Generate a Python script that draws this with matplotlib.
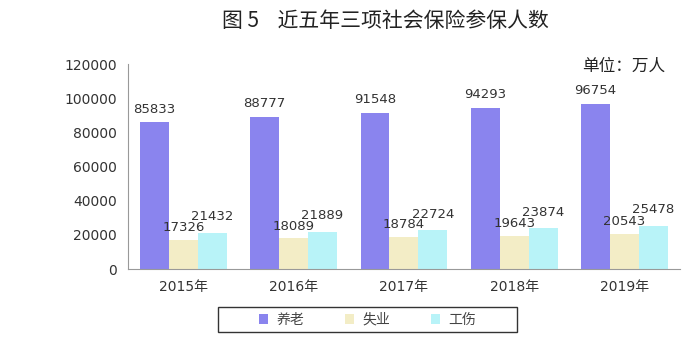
import matplotlib
matplotlib.use("Agg")
import matplotlib.pyplot as plt
from matplotlib.patches import Rectangle
import numpy as np

years = ["2015年", "2016年", "2017年", "2018年", "2019年"]
series_names = ["养老", "失业", "工伤"]
pension = [85833, 88777, 91548, 94293, 96754]
unemployment = [17326, 18089, 18784, 19643, 20543]
injury = [21432, 21889, 22724, 23874, 25478]
yticks = [0, 20000, 40000, 60000, 80000, 100000, 120000]

colors = ["#8a84ee", "#f3edc6", "#b8f3f8"]
fam = ["DejaVu Sans", "Noto Sans CJK SC"]
plt.rcParams["font.family"] = fam

fig = plt.figure(figsize=(7, 3.5), dpi=100)
ax = fig.add_axes([0.183, 0.231, 0.788, 0.586])

x = np.arange(len(years))
w = 0.262
data = [pension, unemployment, injury]
offsets = [-w, 0, w]
label_pad = [5, 4, 7]
for vals, off, c, name, pad in zip(data, offsets, colors, series_names, label_pad):
    bars = ax.bar(x + off, vals, w, color=c, label=name)
    for b, v in zip(bars, vals):
        ax.annotate(str(v), (b.get_x() + b.get_width() / 2, v), xytext=(0, pad),
                    textcoords="offset points", ha="center", va="bottom",
                    fontsize=9.5, color="#333333")

ax.set_xlim(-0.5, len(years) - 0.5)
ax.set_ylim(0, 120000)
ax.set_yticks(yticks)
ax.set_yticklabels([str(t) for t in yticks], fontsize=10, color="#333333")
ax.set_xticks(x)
ax.set_xticklabels(years, fontsize=10, color="#333333")
ax.tick_params(length=0, pad=8)
for s in ["top", "right"]:
    ax.spines[s].set_visible(False)
for s in ["left", "bottom"]:
    ax.spines[s].set_color("#999999")

fig.text(0.55, 0.94, "图 5    近五年三项社会保险参保人数", ha="center", va="center",
         fontsize=15, family=["Noto Sans CJK SC"], color="#222222")
fig.text(0.95, 0.81, "单位：万人", ha="right", va="center", fontsize=12,
         family=["Noto Sans CJK SC"], color="#222222")

leg = fig.legend(loc="center", bbox_to_anchor=(0.525, 0.086), ncol=3,
                 frameon=False,
                 prop={"family": ["Noto Sans CJK SC"], "size": 10},
                 handlelength=0.7, handleheight=0.7, columnspacing=2.9,
                 borderpad=0.35, handletextpad=0.6)
for t in leg.get_texts():
    t.set_color("#444444")

fig.patches.append(Rectangle((218 / 700, 1 - 332 / 350), 299 / 700, 25 / 350,
                             transform=fig.transFigure, fill=False,
                             edgecolor="#333333", linewidth=1.0))

fig.savefig("out.png", dpi=100)
